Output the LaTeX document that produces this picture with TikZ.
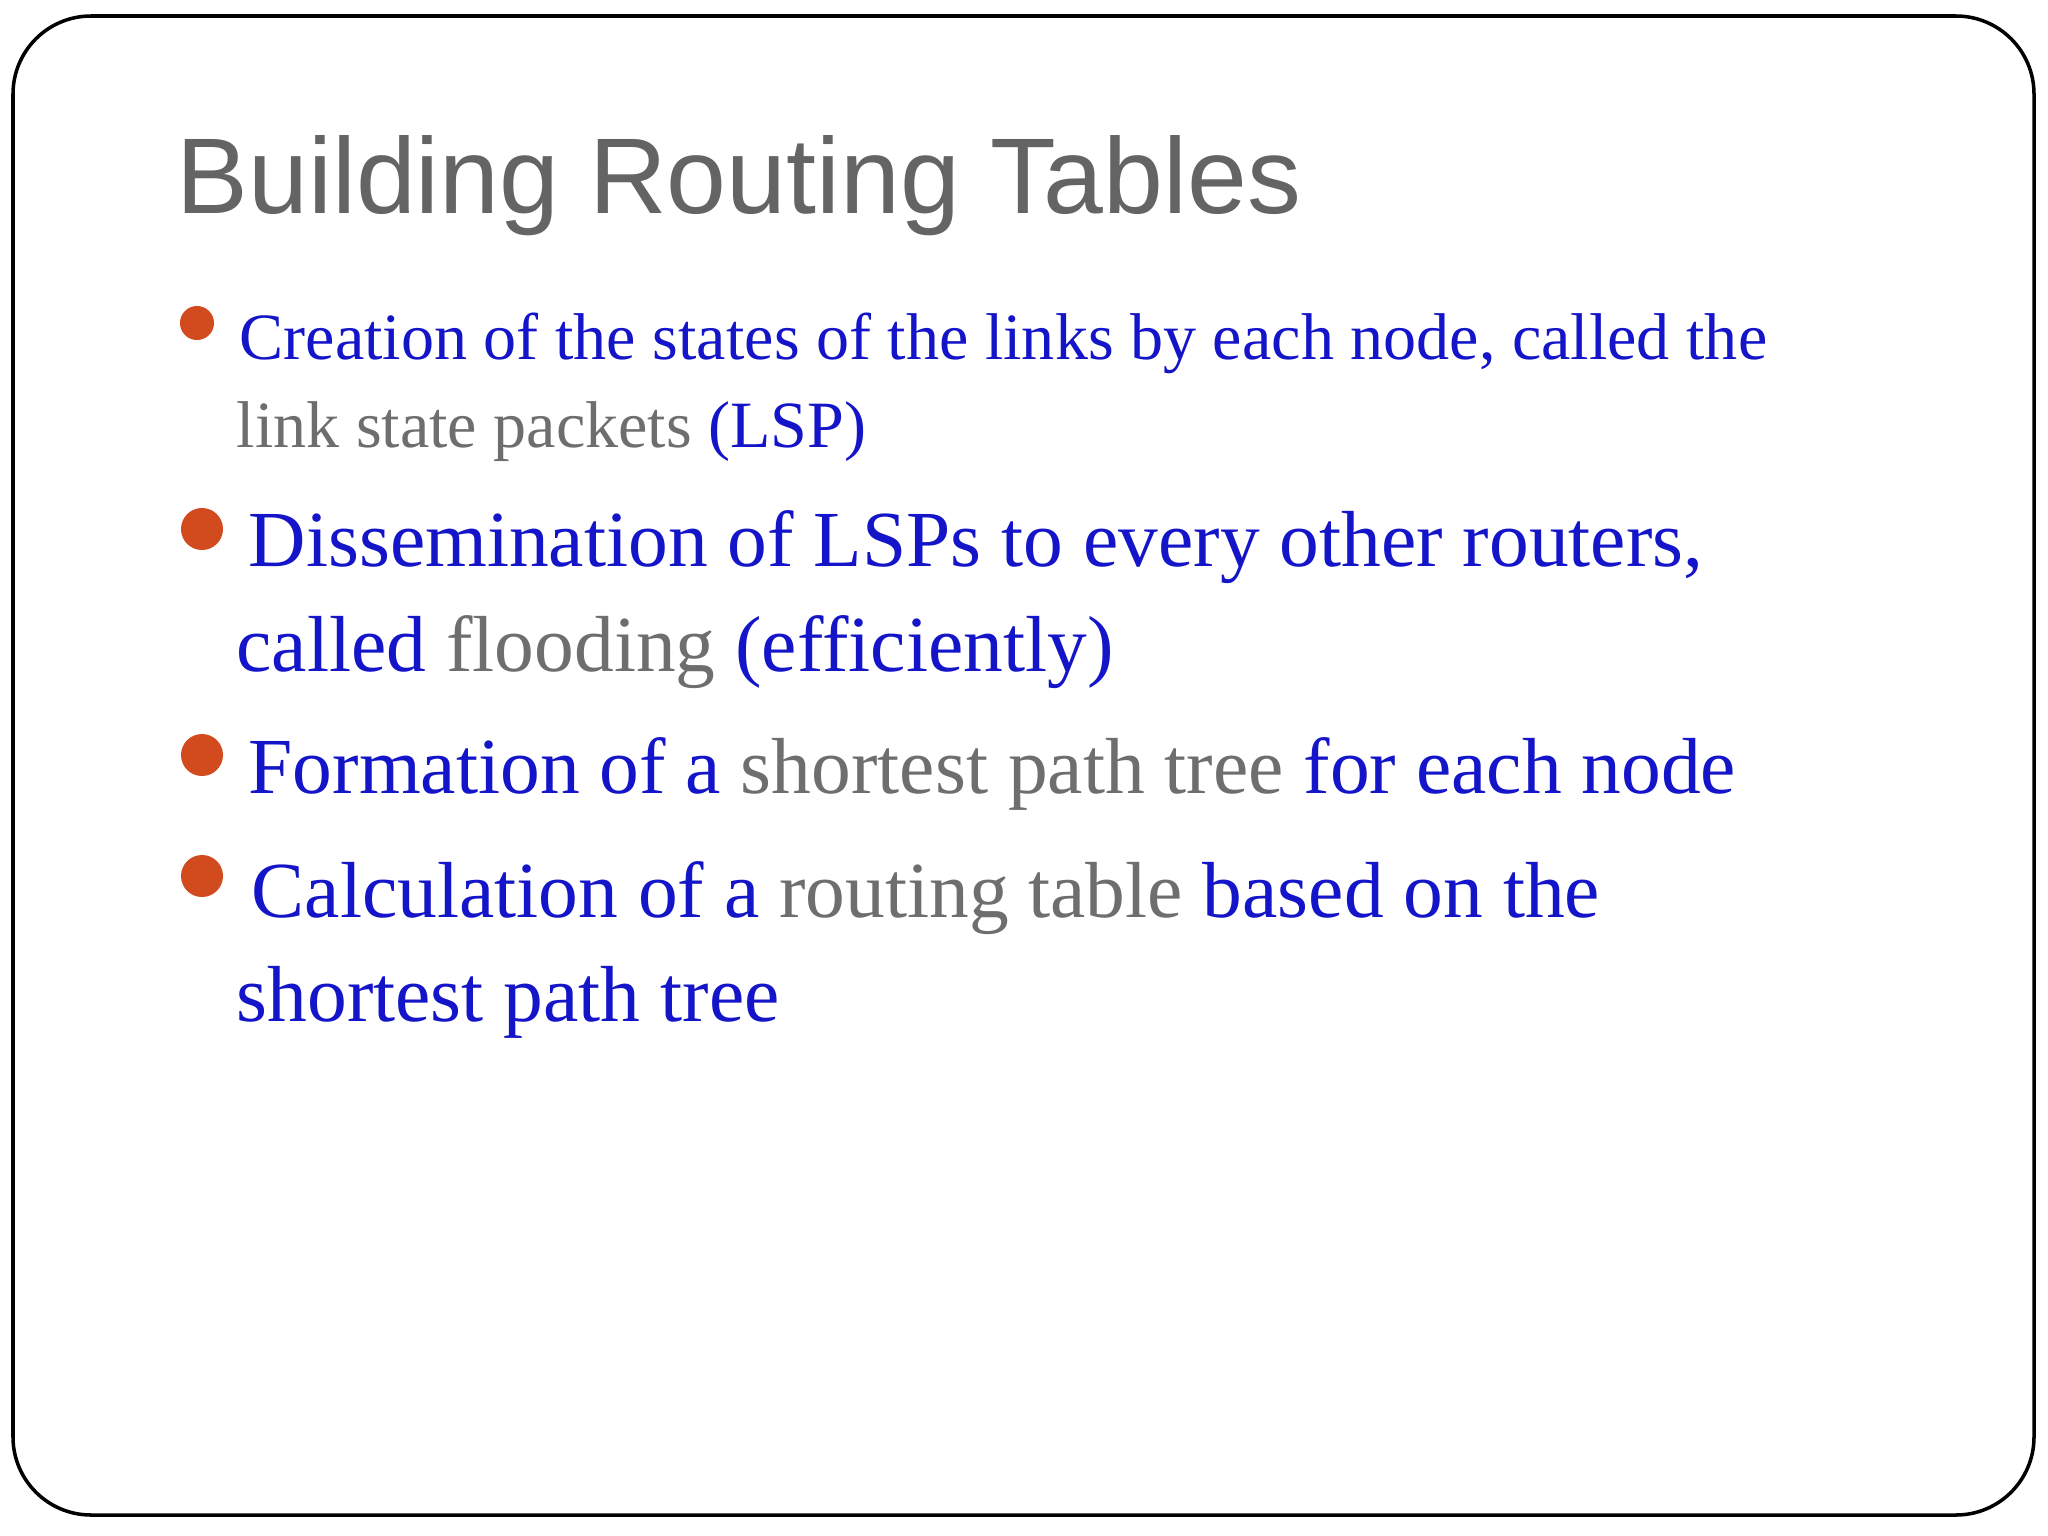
\documentclass[tikz,border=0pt]{standalone}
\usepackage{fontspec}
\setmainfont{Liberation Serif}
\newfontfamily\titlefont{Liberation Sans}
\definecolor{tgray}{RGB}{100,100,100}
\definecolor{bblue}{RGB}{20,20,200}
\definecolor{bgray}{RGB}{110,110,110}
\definecolor{borange}{RGB}{210,75,30}
\begin{document}
\begin{tikzpicture}[x=0.01cm,y=-0.01cm,
  txt/.style={anchor=base west,inner sep=0pt,text=bblue},
  small/.style={txt,font=\fontsize{18.8}{22}\selectfont},
  big/.style={txt,font=\fontsize{22.6}{27}\selectfont},
  dot/.style={circle,fill=borange,inner sep=0pt}]
\useasboundingbox (0,0) rectangle (2048,1536);
\fill[white] (0,0) rectangle (2048,1536);
\draw[rounded corners=0.78cm, line width=1pt] (13,16) rectangle (2034,1515);
\node[anchor=base west,inner sep=0pt,text=tgray,font=\titlefont\fontsize{30.6}{36}\selectfont] (title) at (176,213) {Building Routing Tables};
\node[dot,minimum size=0.34cm] (d1) at (197,323) {};
\node[small] (b1a) at (239,359) {Creation of the states of the links by each node, called the};
\node[small] (b1b) at (236,447) {\textcolor{bgray}{link state packets} (LSP)};
\node[dot,minimum size=0.42cm] (d2) at (202,529) {};
\node[big] (b2a) at (248,566) {Dissemination of LSPs to every other routers,};
\node[big] (b2b) at (236,671) {called \textcolor{bgray}{flooding} (efficiently)};
\node[dot,minimum size=0.42cm] (d3) at (202,755) {};
\node[big] (b3) at (248,793) {Formation of a \textcolor{bgray}{shortest path tree} for each node};
\node[dot,minimum size=0.42cm] (d4) at (202,876) {};
\node[big] (b4a) at (251,917) {Calculation of a \textcolor{bgray}{routing table} based on the};
\node[big] (b4b) at (236,1021) {shortest path tree};
\end{tikzpicture}
\end{document}
